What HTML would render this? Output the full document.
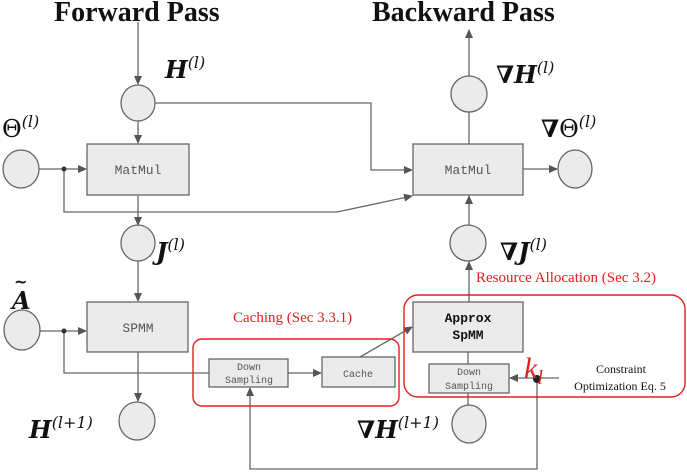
<!DOCTYPE html>
<html><head><meta charset="utf-8"><style>
html,body{margin:0;padding:0;background:#fff}
svg{display:block}
.m{font-family:"Liberation Mono",monospace;fill:#555}
.s{font-family:"Liberation Serif",serif}
.b{font-family:"DejaVu Serif","Liberation Serif",serif;font-weight:bold;font-style:italic;fill:#111}
.sup{font-family:"DejaVu Serif","Liberation Serif",serif;font-style:italic;fill:#111}
.r{font-family:"Liberation Serif",serif;fill:#e02020}
</style></head><body>
<svg width="687" height="472" viewBox="0 0 687 472" xmlns="http://www.w3.org/2000/svg">
<defs><marker id="a" markerWidth="9" markerHeight="8" refX="8" refY="4" orient="auto" markerUnits="userSpaceOnUse"><path d="M0,0 L9,4 L0,8 z" fill="#555"/></marker></defs>
<g stroke="#666" stroke-width="1.3" fill="none">
<line x1="138" y1="22" x2="138" y2="84" marker-end="url(#a)"/>
<polyline points="155,103 371,103 371,170 412,170" marker-end="url(#a)"/>
<line x1="138" y1="121" x2="138" y2="143" marker-end="url(#a)"/>
<line x1="39" y1="169" x2="86" y2="169" marker-end="url(#a)"/>
<polyline points="64,169 64,212 337,212 412,196" marker-end="url(#a)"/>
<line x1="138" y1="196" x2="138" y2="225" marker-end="url(#a)"/>
<line x1="523" y1="169" x2="557" y2="169" marker-end="url(#a)"/>
<line x1="469" y1="144" x2="469" y2="112"/>
<line x1="469" y1="76" x2="469" y2="30" marker-end="url(#a)"/>
<line x1="469" y1="225" x2="469" y2="196" marker-end="url(#a)"/>
<line x1="40" y1="331" x2="86" y2="331" marker-end="url(#a)"/>
<polyline points="64,331 64,373 209,373"/>
<line x1="138" y1="261" x2="138" y2="301" marker-end="url(#a)"/>
<line x1="138" y1="352" x2="138" y2="401" marker-end="url(#a)"/>
<line x1="288" y1="373" x2="321" y2="373" marker-end="url(#a)"/>
<line x1="360" y1="357" x2="412" y2="327" marker-end="url(#a)"/>
<line x1="469" y1="302" x2="469" y2="262" marker-end="url(#a)"/>
<line x1="468" y1="352" x2="468" y2="364"/>
<line x1="468" y1="393" x2="468" y2="406"/>
<line x1="559" y1="378" x2="510" y2="378" marker-end="url(#a)"/>
<polyline points="537,379 537,469 250,469 250,388" marker-end="url(#a)"/>
</g>
<g fill="none" stroke="#e02020" stroke-width="1.4">
<rect x="193" y="339" width="206" height="67" rx="9"/>
<rect x="404" y="295" width="281" height="102" rx="14"/>
</g>
<g fill="#ebebeb" stroke="#666" stroke-width="1.3">
<ellipse cx="138" cy="103" rx="17" ry="18"/>
<ellipse cx="21" cy="169" rx="18" ry="19"/>
<ellipse cx="138" cy="243" rx="17" ry="18"/>
<ellipse cx="22" cy="330" rx="18" ry="20"/>
<ellipse cx="137" cy="421" rx="18" ry="19"/>
<ellipse cx="469" cy="94" rx="18" ry="18"/>
<ellipse cx="575" cy="169" rx="17" ry="19"/>
<ellipse cx="468" cy="243" rx="18" ry="18"/>
<ellipse cx="469" cy="424" rx="17" ry="19"/>
<rect x="87" y="144" width="102" height="51"/>
<rect x="413" y="144" width="110" height="51"/>
<rect x="87" y="302" width="101" height="50"/>
<rect x="413" y="302" width="110" height="50"/>
<rect x="209" y="359" width="79" height="28"/>
<rect x="322" y="357" width="73" height="30"/>
<rect x="429" y="364" width="80" height="29"/>
</g>
<circle cx="64" cy="169" r="2.5" fill="#333"/>
<circle cx="64" cy="331" r="2.5" fill="#333"/>
<circle cx="537" cy="379" r="4" fill="#222"/>
<text x="54" y="21" class="s" font-size="28" font-weight="bold" fill="#111">Forward Pass</text>
<text x="372" y="21" class="s" font-size="28" font-weight="bold" fill="#111">Backward Pass</text>
<g class="m" font-size="13" text-anchor="middle">
<text x="138" y="174">MatMul</text>
<text x="468" y="174">MatMul</text>
<text x="138" y="332">SPMM</text>
<text x="358" y="377" font-size="10">Cache</text>
<text x="249" y="370" font-size="10">Down</text>
<text x="249" y="383" font-size="10">Sampling</text>
<text x="469" y="375" font-size="10">Down</text>
<text x="469" y="389" font-size="10">Sampling</text>
<text x="468" y="322" font-weight="bold" fill="#111" font-size="13">Approx</text>
<text x="468" y="339" font-weight="bold" fill="#111" font-size="13">SpMM</text>
</g>
<text x="165" y="78" class="b" font-size="24">H<tspan class="sup" font-weight="normal" font-size="16" dy="-10">(l)</tspan></text>
<text x="2" y="137" font-family="DejaVu Serif" fill="#111" font-size="24">Θ<tspan class="sup" font-size="16" dy="-10">(l)</tspan></text>
<text x="156" y="260" class="b" font-size="24">J<tspan class="sup" font-weight="normal" font-size="16" dy="-10">(l)</tspan></text>
<text x="12" y="309" class="b" font-size="24">A</text>
<text x="14" y="287" font-family="DejaVu Sans" font-size="16" font-weight="bold" fill="#111">~</text>
<text x="29" y="438" class="b" font-size="24">H<tspan class="sup" font-weight="normal" font-size="16" dy="-10">(l+1)</tspan></text>
<text x="496" y="83" class="b" font-size="24">∇H<tspan class="sup" font-weight="normal" font-size="16" dy="-10">(l)</tspan></text>
<text x="541" y="137" class="b" font-size="24">∇<tspan font-style="normal" font-weight="normal">Θ</tspan><tspan class="sup" font-weight="normal" font-size="16" dy="-10">(l)</tspan></text>
<text x="500" y="260" class="b" font-size="24">∇J<tspan class="sup" font-weight="normal" font-size="16" dy="-10">(l)</tspan></text>
<text x="357" y="438" class="b" font-size="24">∇H<tspan class="sup" font-weight="normal" font-size="16" dy="-10">(l+1)</tspan></text>
<text x="233" y="322" class="r" font-size="15">Caching (Sec 3.3.1)</text>
<text x="476" y="282" class="r" font-size="15">Resource Allocation (Sec 3.2)</text>
<text x="524" y="378" class="r" font-size="30" font-style="italic">k<tspan font-size="20" dy="6">l</tspan></text>
<text x="621" y="373" class="s" font-size="12" fill="#111" text-anchor="middle">Constraint</text>
<text x="620" y="390" class="s" font-size="12" fill="#111" text-anchor="middle">Optimization Eq. 5</text>
</svg>
</body></html>
